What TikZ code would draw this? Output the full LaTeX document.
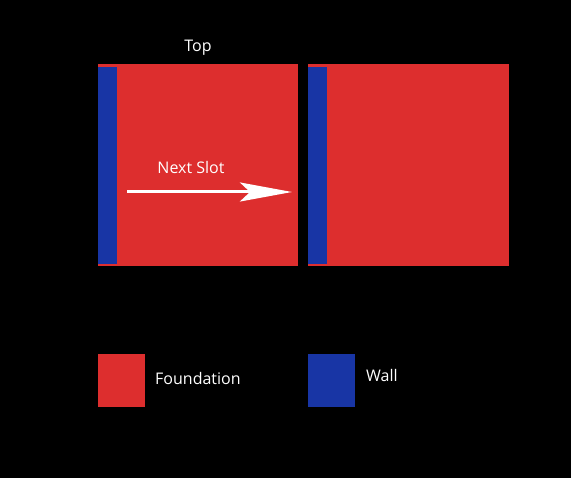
\documentclass[tikz,border=0pt]{standalone}
\usepackage{fontspec}
\setmainfont{Open Sans}
\usetikzlibrary{arrows.meta}

\definecolor{foundationred}{RGB}{221,46,46}
\definecolor{wallblue}{RGB}{24,53,165}

\tikzset{
    slot/.style={fill=foundationred, anchor=north west, inner sep=0pt,
        minimum width=200pt, minimum height=202pt},
    wallbar/.style={fill=wallblue, anchor=north west, inner sep=0pt,
        minimum width=19pt, minimum height=197pt},
    keybox/.style={anchor=north west, inner sep=0pt,
        minimum width=47pt, minimum height=53pt},
    caption/.style={text=white, inner sep=0pt, font=\fontsize{16}{19}\selectfont},
}

\begin{document}
\begin{tikzpicture}[x=1pt, y=-1pt]
    \fill[black] (0, 0) rectangle (571, 478);
    \useasboundingbox (0, 0) rectangle (571, 478);

    \node[slot] (slot1) at (98, 64) {};
    \node[wallbar] (wall1) at (98, 67) {};
    \node[slot, minimum width=201pt] (slot2) at (308, 64) {};
    \node[wallbar] (wall2) at (308, 67) {};

    \node[caption] (top) at (198, 47.5) {Top};
    \node[caption] (nextslot) at (191, 167.5) {Next Slot};

    \coordinate (from) at (127, 192);
    \coordinate (to) at (292, 192);
    \draw[white, line width=3pt, -{Stealth[length=52pt, width=19pt, inset=10pt]}] (from) -- (to);

    \node[keybox, fill=foundationred] (keyfound) at (98, 354) {};
    \node[caption, anchor=west] (foundlabel) at (155, 378.5) {Foundation};
    \node[keybox, fill=wallblue] (keywall) at (308, 354) {};
    \node[caption, anchor=west] (walllabel) at (366, 375.5) {Wall};
\end{tikzpicture}
\end{document}
